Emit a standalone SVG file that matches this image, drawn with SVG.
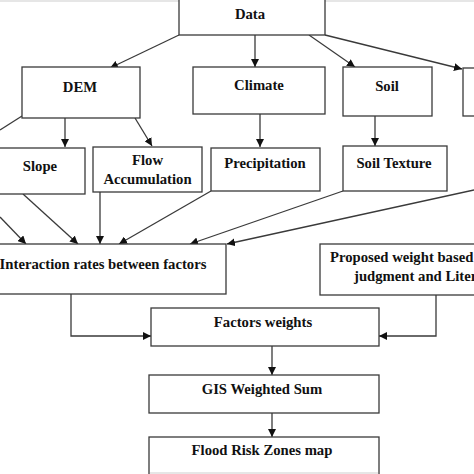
<svg xmlns="http://www.w3.org/2000/svg" width="474" height="474" viewBox="0 0 474 474">
<style>
.box{fill:#fff;stroke:#3a3a3a;stroke-width:1.3}
.t{font-family:"Liberation Serif","Times New Roman",serif;font-weight:bold;font-size:14.7px;fill:#111;text-anchor:middle}
.ts{font-family:"Liberation Serif","Times New Roman",serif;font-weight:bold;font-size:14.7px;fill:#111;text-anchor:start}
.c{fill:none;stroke:#3a3a3a;stroke-width:1.3}
</style>
<defs>
<marker id="ah" viewBox="0 0 10 10" refX="10" refY="5" markerWidth="8" markerHeight="8" markerUnits="userSpaceOnUse" orient="auto">
<path d="M0,0 L10,5 L0,10 z" fill="#111"/>
</marker>
</defs>
<rect x="0" y="0" width="474" height="474" fill="#fff"/>
<rect x="0" y="0" width="474" height="2" fill="#e6e6e6"/>
<g id="connectors">
<path class="c" d="M179,35 L110,68" marker-end="url(#ah)"/>
<path class="c" d="M255,35 L255,67" marker-end="url(#ah)"/>
<path class="c" d="M309,35 L355,67" marker-end="url(#ah)"/>
<path class="c" d="M325,35 L462,69" marker-end="url(#ah)"/>
<path class="c" d="M22,116 L0,130"/>
<path class="c" d="M65,118 L65,147" marker-end="url(#ah)"/>
<path class="c" d="M135,118 L152,146" marker-end="url(#ah)"/>
<path class="c" d="M260,114 L260,147" marker-end="url(#ah)"/>
<path class="c" d="M375,116 L375,146" marker-end="url(#ah)"/>
<path class="c" d="M0,217 L26,244" marker-end="url(#ah)"/>
<path class="c" d="M23,194 L78,244" marker-end="url(#ah)"/>
<path class="c" d="M100,192 L100,244" marker-end="url(#ah)"/>
<path class="c" d="M211,191 L119,244" marker-end="url(#ah)"/>
<path class="c" d="M343,191 L190,244" marker-end="url(#ah)"/>
<path class="c" d="M474,190 L227,244" marker-end="url(#ah)"/>
<path class="c" d="M71,294 L71,336 L151,336" marker-end="url(#ah)"/>
<path class="c" d="M436,295 L436,336 L379,336" marker-end="url(#ah)"/>
<path class="c" d="M272,346 L272,375" marker-end="url(#ah)"/>
<path class="c" d="M272,413 L272,437" marker-end="url(#ah)"/>
</g>
<g id="data"><rect class="box" x="179" y="-5" width="146" height="40"/><text class="t" x="250" y="19">Data</text></g>
<g id="dem"><rect class="box" x="22" y="67" width="118" height="51"/><text class="t" x="80" y="92">DEM</text></g>
<g id="climate"><rect class="box" x="193" y="67" width="132" height="47"/><text class="t" x="259" y="90">Climate</text></g>
<g id="soil"><rect class="box" x="343" y="67" width="89" height="49"/><text class="t" x="387" y="91">Soil</text></g>
<g id="right-box"><rect class="box" x="463" y="68" width="30" height="48"/></g>
<g id="slope"><rect class="box" x="-20" y="148" width="105" height="46"/><text class="t" x="40" y="171">Slope</text></g>
<g id="flow"><rect class="box" x="93" y="147" width="109" height="45"/><text class="t" x="147.5" y="165">Flow</text><text class="t" x="147.5" y="184">Accumulation</text></g>
<g id="precipitation"><rect class="box" x="211" y="148" width="109" height="43"/><text class="t" x="265" y="168">Precipitation</text></g>
<g id="soil-texture"><rect class="box" x="343" y="146" width="104" height="45"/><text class="t" x="394" y="168">Soil Texture</text></g>
<g id="interaction"><rect class="box" x="-20" y="244" width="246" height="50"/><text class="t" x="103" y="269">Interaction rates between factors</text></g>
<g id="proposed"><rect class="box" x="320" y="244" width="180" height="51"/><text class="ts" x="330" y="262">Proposed weight based</text><text class="ts" x="354" y="281">judgment and Liter</text></g>
<g id="factors-weights"><rect class="box" x="151" y="308" width="228" height="38"/><text class="t" x="263" y="327">Factors weights</text></g>
<g id="gis"><rect class="box" x="149" y="375" width="230" height="38"/><text class="t" x="262" y="394">GIS Weighted Sum</text></g>
<g id="flood"><rect class="box" x="149" y="437" width="230" height="45"/><text class="t" x="262" y="455">Flood Risk Zones map</text></g>
<rect x="150" y="472" width="228" height="2" fill="#e6e6e6"/>
</svg>
